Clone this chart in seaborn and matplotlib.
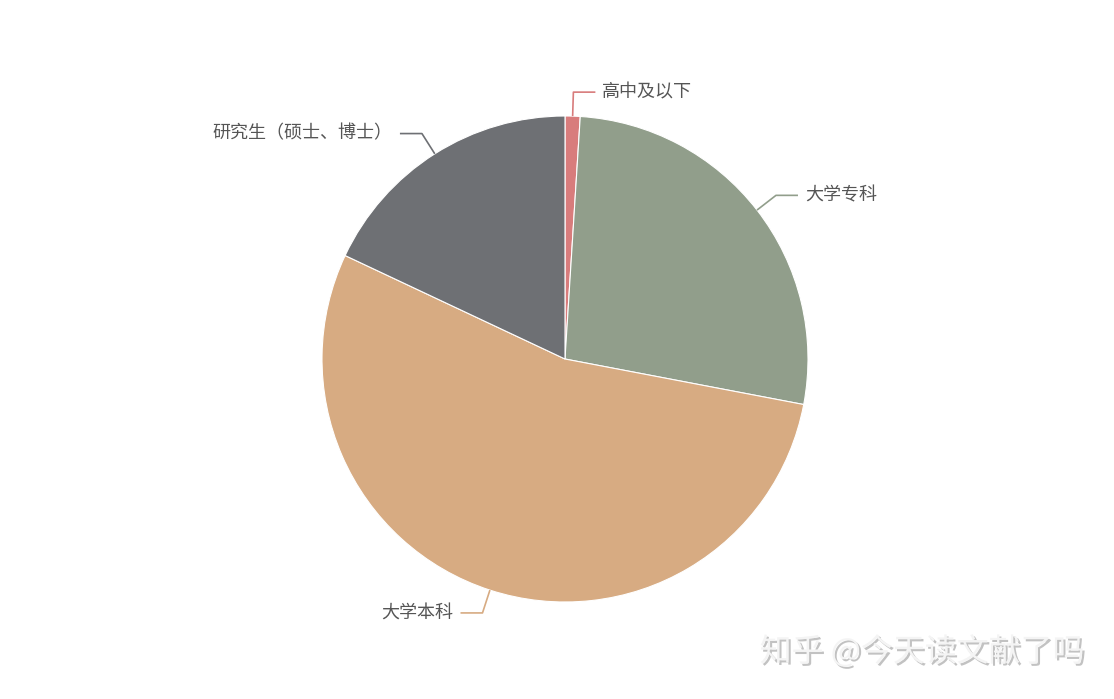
import numpy as np
import matplotlib
matplotlib.use("Agg")
import matplotlib.pyplot as plt
import matplotlib.patheffects as pe
import seaborn as sns

# education level shares (%)
categories = ["高中及以下", "大学专科", "大学本科", "研究生（硕士、博士）"]
shares = [1.0, 27.0, 54.0, 18.0]
colors = ["#d87c7c", "#919e8b", "#d7ab82", "#6e7074"]

sns.set_theme(style="white")
plt.rcParams["font.family"] = ["Noto Sans CJK SC", "DejaVu Sans"]

W, H = 1114, 699
fig = plt.figure(figsize=(W / 100, H / 100), dpi=100)
ax = fig.add_axes([0, 0, 1, 1])

cx, cy, r = 565, H - 359, 243
wedges, _ = ax.pie(shares, colors=colors, startangle=90, counterclock=False,
                   center=(cx, cy), radius=r, frame=True,
                   wedgeprops={"edgecolor": "white", "linewidth": 0.8})
ax.set_xlim(0, W)
ax.set_ylim(0, H)
ax.set_aspect("equal")
ax.axis("off")

# leader lines + labels in echarts style
for w, label, col in zip(wedges, categories, colors):
    ang = np.deg2rad((w.theta1 + w.theta2) / 2)
    x0, y0 = cx + r * np.cos(ang), cy + r * np.sin(ang)
    x1, y1 = cx + (r + 24) * np.cos(ang), cy + (r + 24) * np.sin(ang)
    side = 1 if np.cos(ang) >= 0 else -1
    x2 = x1 + side * 22
    ax.plot([x0, x1, x2], [y0, y1, y1], color=col, lw=1.2, solid_capstyle="butt")
    ax.text(x2 + side * 7, y1, label, ha="left" if side > 0 else "right",
            va="center", fontsize=13, color="#555555")

# watermark
ax.text(1085, H - 652, "知乎 @今天读文献了吗", ha="right", va="center",
        fontsize=23, color="#f4f4f4",
        path_effects=[pe.withSimplePatchShadow(offset=(1.5, -1.5), shadow_rgbFace="#9a9a9a", alpha=0.6)])

fig.savefig("out.png", dpi=100, facecolor="white")
